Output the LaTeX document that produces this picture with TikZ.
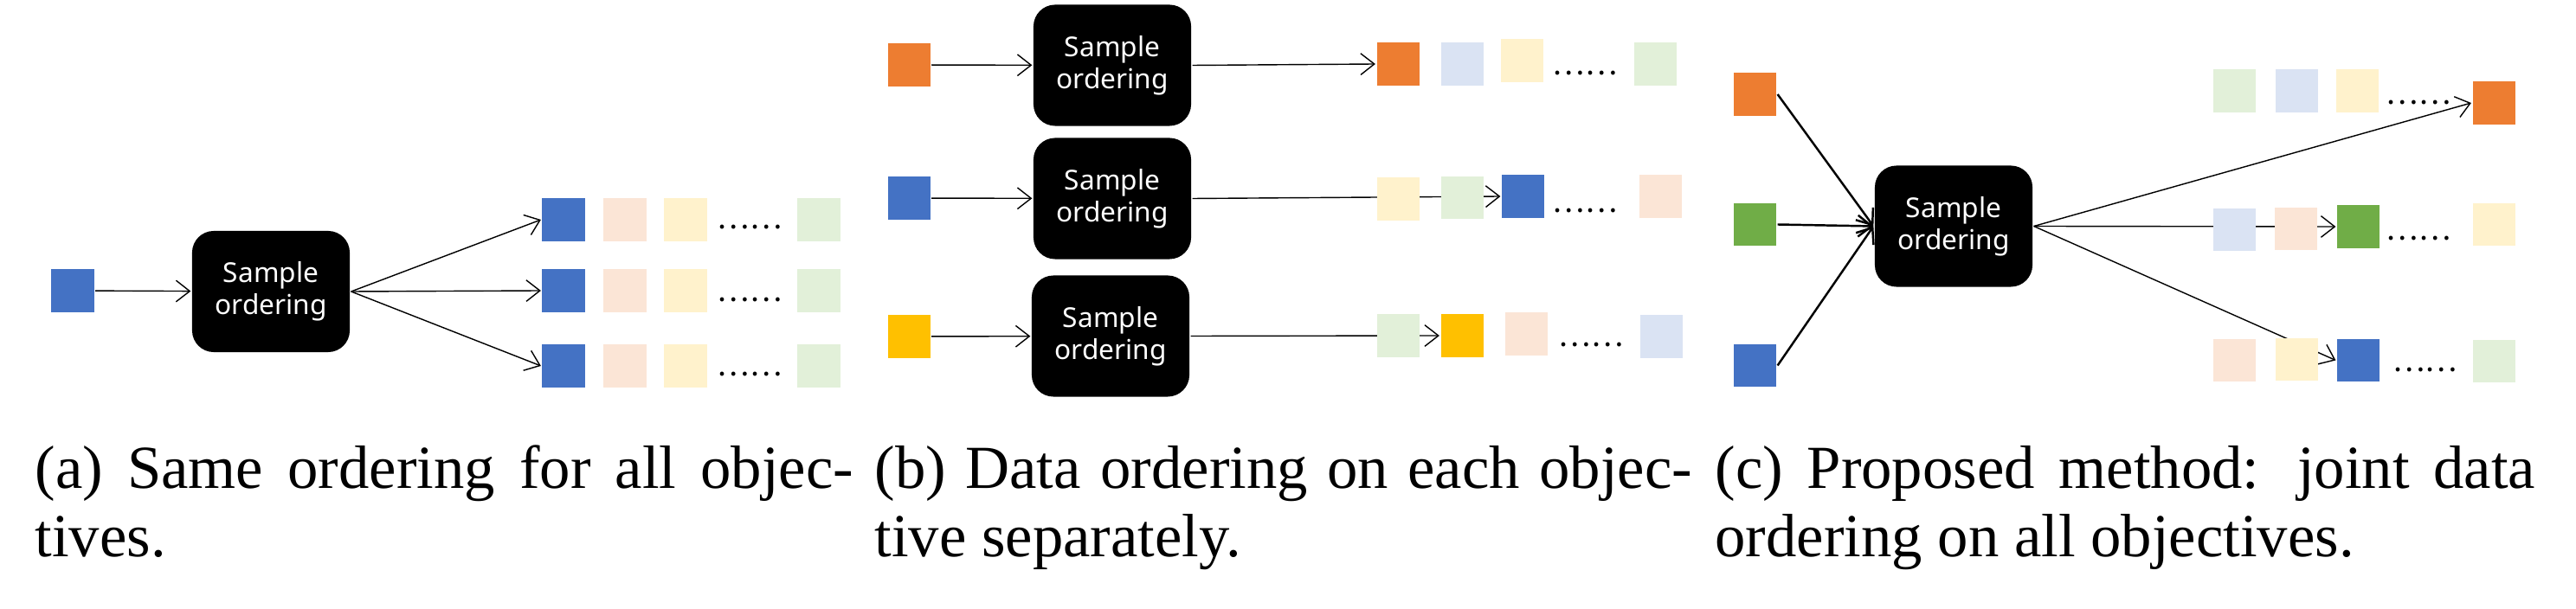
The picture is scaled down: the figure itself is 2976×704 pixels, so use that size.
\documentclass[tikz,border=0pt]{standalone}
\usepackage{fontspec}
\setmainfont{Liberation Serif}
\newfontfamily\boxfont{Noto Sans}
\newfontfamily\cjkfont{Noto Sans CJK SC}
\usetikzlibrary{arrows.meta,positioning,calc,backgrounds}
\definecolor{objblue}{HTML}{4472C4}
\definecolor{objorange}{HTML}{ED7D31}
\definecolor{objgold}{HTML}{FFC000}
\definecolor{objgreen}{HTML}{70AD47}
\definecolor{paleblue}{HTML}{DAE3F3}
\definecolor{palepeach}{HTML}{FBE5D6}
\definecolor{paleyellow}{HTML}{FFF2CC}
\definecolor{palegreen}{HTML}{E2F0D9}
\tikzset{order node/.style={rectangle,rounded corners=0.25cm,fill=black,text=white,minimum width=1.82cm,minimum height=1.4cm,inner sep=0pt,align=center,font=\boxfont\fontsize{9}{10.5}\selectfont},
         item/.style={rectangle,minimum size=0.49cm,inner sep=0pt},
         more/.style={inner sep=0pt,font=\cjkfont\fontsize{10}{12}\selectfont},
         caption/.style={anchor=base west,align=left,inner sep=0pt,font=\fontsize{20.1}{22.5}\selectfont}
}

\begin{document}
\begin{tikzpicture}[x=0.01cm, y=-0.01cm,
>={Straight Barb[length=4.5pt,width=7pt]},
line width=0.9pt]
\useasboundingbox (0,0) rectangle (2976,704);

% (a) same ordering
\node [item, fill=objblue] (ain) at (84,336) {};
\node [order node] (abox) at (313,337) {Sample\\ordering};
\node [item, fill=objblue] (a11) at (651,254) {};
\node [item, fill=palepeach] (a12) at (722,254) {};
\node [item, fill=paleyellow] (a13) at (792,254) {};
\node [more] (a14) at (866,263) {……};
\node [item, fill=palegreen] (a15) at (946,254) {};
\node [item, fill=objblue] (a21) at (651,336) {};
\node [item, fill=palepeach] (a22) at (722,336) {};
\node [item, fill=paleyellow] (a23) at (792,336) {};
\node [more] (a24) at (866,347) {……};
\node [item, fill=palegreen] (a25) at (946,336) {};
\node [item, fill=objblue] (a31) at (651,423) {};
\node [item, fill=palepeach] (a32) at (722,423) {};
\node [item, fill=paleyellow] (a33) at (792,423) {};
\node [more] (a34) at (866,433) {……};
\node [item, fill=palegreen] (a35) at (946,423) {};

% (b) one ordering per objective
\node [item, fill=objorange] (bin1) at (1050,75) {};
\node [item, fill=objblue] (bin2) at (1050,229) {};
\node [item, fill=objgold] (bin3) at (1050,389) {};
\node [order node] (bbox1) at (1285,75.5) {Sample\\ordering};
\node [order node] (bbox2) at (1285,229.5) {Sample\\ordering};
\node [order node] (bbox3) at (1283,388.5) {Sample\\ordering};
\node [item, fill=objorange] (b11) at (1615,74) {};
\node [item, fill=paleblue] (b12) at (1689,74) {};
\node [item, fill=paleyellow] (b13) at (1758,70) {};
\node [more] (b14) at (1831,85) {……};
\node [item, fill=palegreen] (b15) at (1912,74) {};
\node [item, fill=paleyellow] (b21) at (1615,230) {};
\node [item, fill=palegreen] (b22) at (1689,228.5) {};
\node [item, fill=objblue] (b23) at (1759.5,227) {};
\node [more] (b24) at (1831,244) {……};
\node [item, fill=palepeach] (b25) at (1918,227) {};
\node [item, fill=palegreen] (b31) at (1615,388) {};
\node [item, fill=objgold] (b32) at (1689,388) {};
\node [item, fill=palepeach] (b33) at (1763,386) {};
\node [more] (b34) at (1838,399) {……};
\node [item, fill=paleblue] (b35) at (1919,389) {};

% (c) joint ordering
\node [item, fill=objorange] (cin1) at (2027.5,109) {};
\node [item, fill=objgreen] (cin2) at (2027.5,259.5) {};
\node [item, fill=objblue] (cin3) at (2027.5,422.5) {};
\node [order node] (cbox) at (2257,261.5) {Sample\\ordering};
\node [item, fill=palegreen] (c11) at (2581.5,105) {};
\node [item, fill=paleblue] (c12) at (2653,105) {};
\node [item, fill=paleyellow] (c13) at (2723.5,105) {};
\node [more] (c14) at (2794,119) {……};
\node [item, fill=objorange] (c15) at (2881,119) {};
\node [item, fill=paleblue] (c21) at (2581.5,265.5) {};
\node [item, fill=palepeach] (c22) at (2652,264.5) {};
\node [item, fill=objgreen] (c23) at (2724.5,262) {};
\node [more] (c24) at (2794,276) {……};
\node [item, fill=paleyellow] (c25) at (2881.5,259.5) {};
\node [item, fill=palepeach] (c31) at (2581.5,416.5) {};
\node [item, fill=paleyellow] (c32) at (2653.5,415.5) {};
\node [item, fill=objblue] (c33) at (2724.5,416.5) {};
\node [more] (c34) at (2801.5,428) {……};
\node [item, fill=palegreen] (c35) at (2881.5,417.5) {};

% connectors go behind the squares
\begin{scope}[on background layer]
\draw [->] (ain) -- (abox);
\draw [->] (abox.east) -- (a11.west);
\draw [->] (abox.east) -- (a21.west);
\draw [->] (abox.east) -- (a31.west);
\draw [->] (bin1) -- (bbox1);
\draw [->] (bin2) -- (bbox2);
\draw [->] (bin3) -- (bbox3);
\draw [->] (bbox1.east) -- (b11.west);
\draw [->] (bbox2.east) -- (b23.west);
\draw [->] (bbox3.east) -- (b32.west);
\draw [->, line width=0.7pt] (cin1.east) -- (cbox.west);
\draw [->, line width=0.7pt] (cin2.east) -- (cbox.west);
\draw [->, line width=0.7pt] (cin3.east) -- (cbox.west);
\draw [->] (cbox.east) -- (c15.west);
\draw [->] (cbox.east) -- (c23.west);
\draw [->] (cbox.east) -- (c33.west);
\end{scope}

% sub-captions (anchored on the second line)
\node [caption] (capa) at (39,644) {\makebox[9.45cm][s]{(a) Same ordering for all objec-}\\tives.};
\node [caption] (capb) at (1009,644) {\makebox[9.44cm][s]{(b) Data ordering on each objec-}\\tive separately.};
\node [caption] (capc) at (1980,644) {\makebox[9.47cm][s]{(c) Proposed method: joint data}\\ordering on all objectives.};
\end{tikzpicture}
\end{document}
